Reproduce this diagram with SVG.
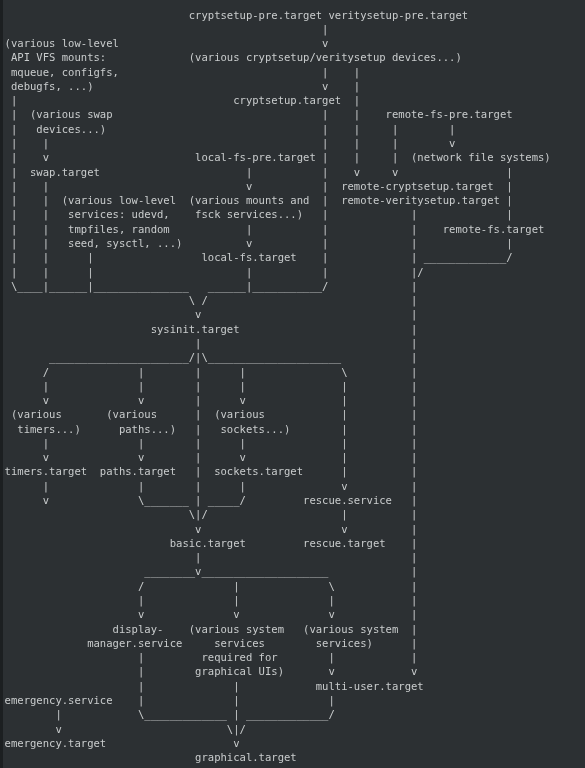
<svg xmlns="http://www.w3.org/2000/svg" width="585" height="768" viewBox="0 0 585 768">
<style>
text { font-family: "DejaVu Sans Mono", "Liberation Mono", monospace; font-size: 10.55px; fill: #c9cccd; }
</style>
<defs>
<filter id="gray" x="0" y="0" width="585" height="768" filterUnits="userSpaceOnUse"><feOffset dx="0" dy="0"/></filter>
</defs>
<rect x="0" y="0" width="585" height="768" fill="#2c3033"/>
<rect x="0" y="0" width="3" height="768" fill="#1c1f21"/>
<g filter="url(#gray)">
<g id="nodes">
<g id="cryptsetup-pre"><text x="188.75" y="18.5">cryptsetup-pre.target</text></g>
<g id="veritysetup-pre"><text x="328.45" y="18.5">veritysetup-pre.target</text></g>
<g id="api-vfs-mounts"><text x="4.6" y="47.06">(various low-level</text><text x="10.95" y="61.34">API VFS mounts:</text><text x="10.95" y="75.62">mqueue, configfs,</text><text x="10.95" y="89.9">debugfs, ...)</text></g>
<g id="crypt-devices"><text x="188.75" y="61.34">(various cryptsetup/veritysetup devices...)</text></g>
<g id="cryptsetup"><text x="233.2" y="104.18">cryptsetup.target</text></g>
<g id="swap-devices"><text x="30" y="118.46">(various swap</text><text x="36.35" y="132.74">devices...)</text></g>
<g id="remote-fs-pre"><text x="385.6" y="118.46">remote-fs-pre.target</text></g>
<g id="local-fs-pre"><text x="195.1" y="161.3">local-fs-pre.target</text></g>
<g id="network-fs"><text x="411" y="161.3">(network file systems)</text></g>
<g id="swap"><text x="30" y="175.58">swap.target</text></g>
<g id="remote-cryptsetup"><text x="341.15" y="189.86">remote-cryptsetup.target</text></g>
<g id="remote-veritysetup"><text x="341.15" y="204.14">remote-veritysetup.target</text></g>
<g id="low-level-services"><text x="61.75" y="204.14">(various low-level</text><text x="68.1" y="218.42">services: udevd,</text><text x="68.1" y="232.7">tmpfiles, random</text><text x="68.1" y="246.98">seed, sysctl, ...)</text></g>
<g id="mounts"><text x="188.75" y="204.14">(various mounts and</text><text x="195.1" y="218.42">fsck services...)</text></g>
<g id="remote-fs"><text x="442.75" y="232.7">remote-fs.target</text></g>
<g id="local-fs"><text x="201.45" y="261.26">local-fs.target</text></g>
<g id="sysinit"><text x="150.65" y="332.66">sysinit.target</text></g>
<g id="timers-various"><text x="10.95" y="418.34">(various</text><text x="17.3" y="432.62">timers...)</text></g>
<g id="paths-various"><text x="106.2" y="418.34">(various</text><text x="118.9" y="432.62">paths...)</text></g>
<g id="sockets-various"><text x="214.15" y="418.34">(various</text><text x="220.5" y="432.62">sockets...)</text></g>
<g id="timers"><text x="4.6" y="475.46">timers.target</text></g>
<g id="paths"><text x="99.85" y="475.46">paths.target</text></g>
<g id="sockets"><text x="214.15" y="475.46">sockets.target</text></g>
<g id="rescue-service"><text x="303.05" y="504.02">rescue.service</text></g>
<g id="basic"><text x="169.7" y="546.86">basic.target</text></g>
<g id="rescue"><text x="303.05" y="546.86">rescue.target</text></g>
<g id="display-manager"><text x="112.55" y="632.54">display-</text><text x="87.15" y="646.82">manager.service</text></g>
<g id="graphical-services"><text x="188.75" y="632.54">(various system</text><text x="214.15" y="646.82">services</text><text x="201.45" y="661.1">required for</text><text x="195.1" y="675.38">graphical UIs)</text></g>
<g id="system-services"><text x="303.05" y="632.54">(various system</text><text x="315.75" y="646.82">services)</text></g>
<g id="multi-user"><text x="315.75" y="689.66">multi-user.target</text></g>
<g id="emergency-service"><text x="4.6" y="703.94">emergency.service</text></g>
<g id="emergency"><text x="4.6" y="746.78">emergency.target</text></g>
<g id="graphical"><text x="195.1" y="761.06">graphical.target</text></g>
</g>
<g id="connectors">
<text x="322.1" y="32.78">|</text>
<text x="322.1" y="47.06">v</text>
<text x="322.1" y="75.62">|</text><text x="353.85" y="75.62">|</text>
<text x="322.1" y="89.9">v</text><text x="353.85" y="89.9">|</text>
<text x="10.95" y="104.18">|</text><text x="353.85" y="104.18">|</text>
<text x="10.95" y="118.46">|</text><text x="322.1" y="118.46">|</text><text x="353.85" y="118.46">|</text>
<text x="10.95" y="132.74">|</text><text x="322.1" y="132.74">|</text><text x="353.85" y="132.74">|</text><text x="391.95" y="132.74">|</text><text x="449.1" y="132.74">|</text>
<text x="10.95" y="147.02">|</text><text x="42.7" y="147.02">|</text><text x="322.1" y="147.02">|</text><text x="353.85" y="147.02">|</text><text x="391.95" y="147.02">|</text><text x="449.1" y="147.02">v</text>
<text x="10.95" y="161.3">|</text><text x="42.7" y="161.3">v</text><text x="322.1" y="161.3">|</text><text x="353.85" y="161.3">|</text><text x="391.95" y="161.3">|</text>
<text x="10.95" y="175.58">|</text><text x="245.9" y="175.58">|</text><text x="322.1" y="175.58">|</text><text x="353.85" y="175.58">v</text><text x="391.95" y="175.58">v</text><text x="506.25" y="175.58">|</text>
<text x="10.95" y="189.86">|</text><text x="42.7" y="189.86">|</text><text x="245.9" y="189.86">v</text><text x="322.1" y="189.86">|</text><text x="506.25" y="189.86">|</text>
<text x="10.95" y="204.14">|</text><text x="42.7" y="204.14">|</text><text x="322.1" y="204.14">|</text><text x="506.25" y="204.14">|</text>
<text x="10.95" y="218.42">|</text><text x="42.7" y="218.42">|</text><text x="322.1" y="218.42">|</text><text x="411" y="218.42">|</text><text x="506.25" y="218.42">|</text>
<text x="10.95" y="232.7">|</text><text x="42.7" y="232.7">|</text><text x="245.9" y="232.7">|</text><text x="322.1" y="232.7">|</text><text x="411" y="232.7">|</text>
<text x="10.95" y="246.98">|</text><text x="42.7" y="246.98">|</text><text x="245.9" y="246.98">v</text><text x="322.1" y="246.98">|</text><text x="411" y="246.98">|</text><text x="506.25" y="246.98">|</text>
<text x="10.95" y="261.26">|</text><text x="42.7" y="261.26">|</text><text x="87.15" y="261.26">|</text><text x="322.1" y="261.26">|</text><text x="411" y="261.26">|</text><text x="423.7" y="261.26">_____________/</text>
<text x="10.95" y="275.54">|</text><text x="42.7" y="275.54">|</text><text x="87.15" y="275.54">|</text><text x="245.9" y="275.54">|</text><text x="322.1" y="275.54">|</text><text x="411" y="275.54">|</text><text x="417.35" y="275.54">/</text>
<text x="10.95" y="289.82">\____|______|_______________</text><text x="207.8" y="289.82">______|___________/</text><text x="411" y="289.82">|</text>
<text x="188.75" y="304.1">\</text><text x="201.45" y="304.1">/</text><text x="411" y="304.1">|</text>
<text x="195.1" y="318.38">v</text><text x="411" y="318.38">|</text>
<text x="411" y="332.66">|</text>
<text x="195.1" y="346.94">|</text><text x="411" y="346.94">|</text>
<text x="49.05" y="361.22">______________________/|\_____________________</text><text x="411" y="361.22">|</text>
<text x="42.7" y="375.5">/</text><text x="137.95" y="375.5">|</text><text x="195.1" y="375.5">|</text><text x="239.55" y="375.5">|</text><text x="341.15" y="375.5">\</text><text x="411" y="375.5">|</text>
<text x="42.7" y="389.78">|</text><text x="137.95" y="389.78">|</text><text x="195.1" y="389.78">|</text><text x="239.55" y="389.78">|</text><text x="341.15" y="389.78">|</text><text x="411" y="389.78">|</text>
<text x="42.7" y="404.06">v</text><text x="137.95" y="404.06">v</text><text x="195.1" y="404.06">|</text><text x="239.55" y="404.06">v</text><text x="341.15" y="404.06">|</text><text x="411" y="404.06">|</text>
<text x="195.1" y="418.34">|</text><text x="341.15" y="418.34">|</text><text x="411" y="418.34">|</text>
<text x="195.1" y="432.62">|</text><text x="341.15" y="432.62">|</text><text x="411" y="432.62">|</text>
<text x="42.7" y="446.9">|</text><text x="137.95" y="446.9">|</text><text x="195.1" y="446.9">|</text><text x="239.55" y="446.9">|</text><text x="341.15" y="446.9">|</text><text x="411" y="446.9">|</text>
<text x="42.7" y="461.18">v</text><text x="137.95" y="461.18">v</text><text x="195.1" y="461.18">|</text><text x="239.55" y="461.18">v</text><text x="341.15" y="461.18">|</text><text x="411" y="461.18">|</text>
<text x="195.1" y="475.46">|</text><text x="341.15" y="475.46">|</text><text x="411" y="475.46">|</text>
<text x="42.7" y="489.74">|</text><text x="137.95" y="489.74">|</text><text x="195.1" y="489.74">|</text><text x="239.55" y="489.74">|</text><text x="341.15" y="489.74">v</text><text x="411" y="489.74">|</text>
<text x="42.7" y="504.02">v</text><text x="137.95" y="504.02">\_______ | _____/</text><text x="411" y="504.02">|</text>
<text x="188.75" y="518.3">\|/</text><text x="341.15" y="518.3">|</text><text x="411" y="518.3">|</text>
<text x="195.1" y="532.58">v</text><text x="341.15" y="532.58">v</text><text x="411" y="532.58">|</text>
<text x="411" y="546.86">|</text>
<text x="195.1" y="561.14">|</text><text x="411" y="561.14">|</text>
<text x="144.3" y="575.42">________v____________________</text><text x="411" y="575.42">|</text>
<text x="137.95" y="589.7">/</text><text x="233.2" y="589.7">|</text><text x="328.45" y="589.7">\</text><text x="411" y="589.7">|</text>
<text x="137.95" y="603.98">|</text><text x="233.2" y="603.98">|</text><text x="328.45" y="603.98">|</text><text x="411" y="603.98">|</text>
<text x="137.95" y="618.26">v</text><text x="233.2" y="618.26">v</text><text x="328.45" y="618.26">v</text><text x="411" y="618.26">|</text>
<text x="411" y="632.54">|</text>
<text x="411" y="646.82">|</text>
<text x="137.95" y="661.1">|</text><text x="328.45" y="661.1">|</text><text x="411" y="661.1">|</text>
<text x="137.95" y="675.38">|</text><text x="328.45" y="675.38">v</text><text x="411" y="675.38">v</text>
<text x="137.95" y="689.66">|</text><text x="233.2" y="689.66">|</text>
<text x="137.95" y="703.94">|</text><text x="233.2" y="703.94">|</text><text x="328.45" y="703.94">|</text>
<text x="55.4" y="718.22">|</text><text x="137.95" y="718.22">\_____________ | _____________/</text>
<text x="55.4" y="732.5">v</text><text x="226.85" y="732.5">\|/</text>
<text x="233.2" y="746.78">v</text>
</g>
</g>
</svg>
